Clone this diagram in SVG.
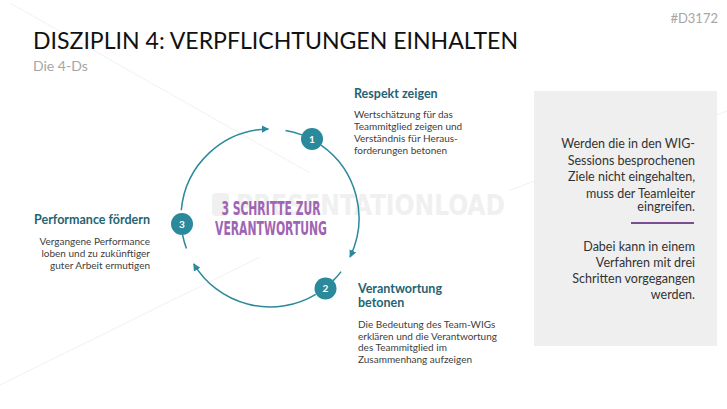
<svg xmlns="http://www.w3.org/2000/svg" width="727" height="409" viewBox="0 0 727 409">
<style>
.title{font-family:Lato,"Liberation Sans",sans-serif;font-size:24px;fill:#111}
.sub{font-family:Lato,"Liberation Sans",sans-serif;font-size:14px;fill:#a6a6a6}
.hd{font-family:Lato,"Liberation Sans",sans-serif;font-size:12.5px;font-weight:bold;fill:#1f6473}
.bd{font-family:Lato,"Liberation Sans",sans-serif;font-size:10px;fill:#404040}
.pn{font-family:Lato,"Liberation Sans",sans-serif;font-size:12.5px;fill:#333}
.num{font-family:Lato,"Liberation Sans",sans-serif;font-size:10px;font-weight:bold;fill:#fff}
.arc{fill:none;stroke:#2a8a9b;stroke-width:1.5}
.ctr{font-family:"DejaVu Sans Condensed","DejaVu Sans",sans-serif;font-weight:bold;font-size:20px;fill:#a064b4}
.wm{stroke:#f1f1f1;stroke-width:1;fill:none}
</style>
<defs>
<marker id="ah" viewBox="0 0 10 10" refX="9" refY="5" markerWidth="5" markerHeight="5" orient="auto" markerUnits="strokeWidth">
<path d="M0,0 L10,5 L0,10 z" fill="#2a8a9b"/>
</marker>
</defs>
<rect width="727" height="409" fill="#fff"/>
<g id="watermark">
<path class="wm" d="M10,3 L310,173 M0,385 L260,257 M730,110 L510,190"/>
<rect x="212" y="193" width="17" height="23" rx="4" fill="#f0f0f0"/>
<text x="236" y="215" font-family="DejaVu Sans Condensed,DejaVu Sans,sans-serif" font-weight="bold" font-size="29" fill="#f0f0f0" textLength="269" lengthAdjust="spacingAndGlyphs">PRESENTATIONLOAD</text>
</g>
<g id="header">
<text class="title" x="33" y="49" textLength="485" lengthAdjust="spacingAndGlyphs">DISZIPLIN 4: VERPFLICHTUNGEN EINHALTEN</text>
<text class="sub" x="33" y="71">Die 4-Ds</text>
<text x="718" y="23" text-anchor="end" font-family="Lato,Liberation Sans,sans-serif" font-size="13" fill="#a6a6a6">#D3172</text>
</g>
<g id="connectors">
<path class="arc" d="M181.3,210.2 A89,89 0 0 1 268.4,129.0" marker-end="url(#ah)"/>
<path class="arc" d="M285.5,130.4 A89,89 0 0 1 301.9,134.9"/>
<path class="arc" d="M321.0,145.1 A89,89 0 0 1 350.0,257.0" marker-end="url(#ah)"/>
<path class="arc" d="M341.1,271.6 A89,89 0 0 1 332.9,280.9"/>
<path class="arc" d="M315.8,294.3 A89,89 0 0 1 193.7,263.8" marker-end="url(#ah)"/>
<path class="arc" d="M186.4,248.4 A89,89 0 0 1 182.6,235.0"/>
</g>
<g id="center">
<text class="ctr" x="271" y="215" text-anchor="middle" textLength="99" lengthAdjust="spacingAndGlyphs">3 SCHRITTE ZUR</text>
<text class="ctr" x="271" y="235" text-anchor="middle" textLength="112" lengthAdjust="spacingAndGlyphs">VERANTWORTUNG</text>
</g>
<g id="node1">
<circle cx="312" cy="139" r="11" fill="#2a8a9b"/>
<text class="num" x="312" y="142.5" text-anchor="middle">1</text>
<text class="hd" x="354" y="98">Respekt zeigen</text>
<text class="bd" x="354" y="118">Wertschätzung für das</text>
<text class="bd" x="354" y="130">Teammitglied zeigen und</text>
<text class="bd" x="354" y="142">Verständnis für Heraus-</text>
<text class="bd" x="354" y="154">forderungen betonen</text>
</g>
<g id="node2">
<circle cx="325.5" cy="288.5" r="11" fill="#2a8a9b"/>
<text class="num" x="325.5" y="292" text-anchor="middle">2</text>
<text class="hd" x="358" y="293">Verantwortung</text>
<text class="hd" x="358" y="307">betonen</text>
<text class="bd" x="358" y="328">Die Bedeutung des Team-WIGs</text>
<text class="bd" x="358" y="340">erklären und die Verantwortung</text>
<text class="bd" x="358" y="351">des Teammitglied im</text>
<text class="bd" x="358" y="363">Zusammenhang aufzeigen</text>
</g>
<g id="node3">
<circle cx="182" cy="224" r="11" fill="#2a8a9b"/>
<text class="num" x="182" y="227.5" text-anchor="middle">3</text>
<text class="hd" x="150" y="224" text-anchor="end">Performance fördern</text>
<text class="bd" x="150" y="245" text-anchor="end">Vergangene Performance</text>
<text class="bd" x="150" y="257" text-anchor="end">loben und zu zukünftiger</text>
<text class="bd" x="150" y="269" text-anchor="end">guter Arbeit ermutigen</text>
</g>
<g id="panel">
<rect x="534" y="91" width="183" height="255" fill="#efefef"/>
<text class="pn" x="695" y="148" text-anchor="end">Werden die in den WIG-</text>
<text class="pn" x="695" y="164.5" text-anchor="end">Sessions besprochenen</text>
<text class="pn" x="695" y="181" text-anchor="end">Ziele nicht eingehalten,</text>
<text class="pn" x="695" y="197.5" text-anchor="end">muss der Teamleiter</text>
<text class="pn" x="695" y="211" text-anchor="end">eingreifen.</text>
<line x1="631" y1="223" x2="694" y2="223" stroke="#7a4e8f" stroke-width="2"/>
<text class="pn" x="695" y="251" text-anchor="end">Dabei kann in einem</text>
<text class="pn" x="695" y="267" text-anchor="end">Verfahren mit drei</text>
<text class="pn" x="695" y="283" text-anchor="end">Schritten vorgegangen</text>
<text class="pn" x="695" y="299" text-anchor="end">werden.</text>
</g>
</svg>
